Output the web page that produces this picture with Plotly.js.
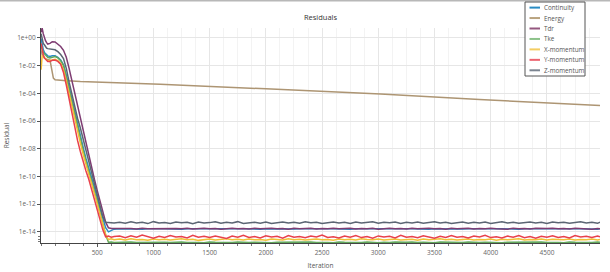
<!DOCTYPE html>
<html>
<head>
<meta charset="utf-8">
<script src="https://cdn.plot.ly/plotly-3.0.1.min.js"></script>
<style>
html,body{margin:0;padding:0;background:#fff;}
#chart{width:610px;height:272px;}
</style>
</head>
<body>
<div id="chart"></div>
<script>
// Iteration numbers shared by the noisy series
const iterations = [1,10,20,30,40,50,60,80,100,125,150,175,200,225,250,275,300,325,350,375,400,425,450,475,500,525,550,575,600,625,650,
700,750,800,850,900,950,1000,1050,1100,1150,1200,1250,1300,1350,1400,1450,1500,1550,1600,1650,1700,1750,1800,1850,1900,1950,
2000,2050,2100,2150,2200,2250,2300,2350,2400,2450,2500,2550,2600,2650,2700,2750,2800,2850,2900,2950,
3000,3050,3100,3150,3200,3250,3300,3350,3400,3450,3500,3550,3600,3650,3700,3750,3800,3850,3900,3950,
4000,4050,4100,4150,4200,4250,4300,4350,4400,4450,4500,4550,4600,4650,4700,4750,4800,4850,4900,4950,4972];

// Residual values stored as log10 exponents
const continuityLog10 = [-0.05,-0.5,-0.85,-1.05,-1.15,-1.25,-1.3,-1.35,-1.3,-1.3,-1.4,-1.6,-1.95,-2.7,-3.6,-4.5,-5.4,-6.3,-7.1,-7.9,-8.7,-9.4,-9.95,-10.7,-11.5,-12.3,-13.1,-13.7,-14.0,-13.9,-13.8,
-13.78,-13.79,-13.77,-13.78,-13.80,-13.77,-13.79,-13.78,-13.77,-13.79,
-13.78,-13.80,-13.77,-13.78,-13.79,-13.77,-13.78,-13.80,-13.78,-13.77,
-13.79,-13.78,-13.77,-13.79,-13.78,-13.80,-13.77,-13.78,-13.79,-13.77,
-13.78,-13.79,-13.77,-13.80,-13.78,-13.77,-13.79,-13.78,-13.77,-13.79,
-13.78,-13.80,-13.77,-13.78,-13.79,-13.77,-13.78,-13.80,-13.78,-13.77,
-13.79,-13.78,-13.77,-13.79,-13.78,-13.80,-13.77,-13.78,-13.79,-13.77,
-13.78,-13.79,-13.77,-13.80,-13.78,-13.77,-13.79,-13.78,-13.77,-13.79,
-13.78,-13.80,-13.77,-13.78,-13.79,-13.77,-13.78,-13.80,-13.78,-13.77,
-13.79,-13.78,-13.77,-13.79,-13.78,-13.80,-13.78];

const tdrLog10 = [0.4,0.71,0.3,0.0,-0.2,-0.35,-0.45,-0.4,-0.28,-0.3,-0.45,-0.62,-0.9,-1.4,-2.2,-3.1,-4.0,-4.95,-5.85,-6.75,-7.65,-8.5,-9.35,-10.2,-11.0,-11.8,-12.6,-13.3,-13.7,-13.76,-13.75,
-13.74,-13.78,-13.75,-13.79,-13.73,-13.77,-13.76,-13.80,-13.74,-13.77,
-13.75,-13.78,-13.73,-13.79,-13.76,-13.74,-13.78,-13.75,-13.80,-13.76,
-13.73,-13.77,-13.75,-13.79,-13.74,-13.78,-13.76,-13.73,-13.77,-13.75,
-13.80,-13.74,-13.78,-13.76,-13.73,-13.79,-13.75,-13.77,-13.74,-13.78,
-13.76,-13.73,-13.79,-13.75,-13.77,-13.74,-13.80,-13.76,-13.73,-13.78,
-13.75,-13.79,-13.74,-13.77,-13.76,-13.73,-13.78,-13.75,-13.80,-13.74,
-13.77,-13.76,-13.73,-13.79,-13.75,-13.78,-13.74,-13.77,-13.76,-13.80,
-13.73,-13.78,-13.75,-13.79,-13.74,-13.77,-13.76,-13.73,-13.78,-13.75,
-13.79,-13.74,-13.77,-13.76,-13.80,-13.75,-13.77];

const tkeLog10 = [-0.6,-0.9,-1.05,-1.15,-1.25,-1.35,-1.4,-1.45,-1.4,-1.35,-1.45,-1.65,-2.0,-2.8,-3.7,-4.6,-5.5,-6.45,-7.3,-8.1,-8.9,-9.6,-10.25,-11.0,-11.8,-12.6,-13.4,-14.2,-14.74,-14.72,-14.76,
-14.74,-14.77,-14.73,-14.76,-14.75,-14.78,-14.72,-14.76,-14.74,-14.77,
-14.75,-14.73,-14.77,-14.74,-14.76,-14.78,-14.73,-14.75,-14.77,-14.74,
-14.76,-14.72,-14.75,-14.77,-14.74,-14.76,-14.73,-14.78,-14.75,-14.74,
-14.77,-14.73,-14.76,-14.75,-14.72,-14.77,-14.74,-14.76,-14.78,-14.73,
-14.75,-14.77,-14.74,-14.76,-14.73,-14.75,-14.78,-14.74,-14.77,-14.72,
-14.76,-14.75,-14.73,-14.77,-14.74,-14.76,-14.78,-14.73,-14.75,-14.77,
-14.74,-14.76,-14.72,-14.75,-14.77,-14.74,-14.76,-14.73,-14.78,-14.75,
-14.74,-14.77,-14.73,-14.76,-14.75,-14.72,-14.77,-14.74,-14.76,-14.78,
-14.73,-14.75,-14.77,-14.74,-14.76,-14.73,-14.75];

const xMomentumLog10 = [-2.3,-1.3,-1.35,-1.45,-1.55,-1.6,-1.65,-1.65,-1.6,-1.55,-1.65,-1.85,-2.3,-3.1,-4.0,-5.0,-6.0,-6.75,-7.6,-8.4,-9.2,-9.85,-10.5,-11.25,-12.0,-12.75,-13.5,-14.2,-14.55,-14.5,-14.56,
-14.52,-14.58,-14.50,-14.57,-14.54,-14.60,-14.51,-14.56,-14.53,-14.59,
-14.55,-14.50,-14.57,-14.53,-14.61,-14.54,-14.52,-14.58,-14.55,-14.49,
-14.57,-14.53,-14.59,-14.51,-14.56,-14.54,-14.60,-14.52,-14.55,-14.58,
-14.50,-14.56,-14.53,-14.59,-14.54,-14.51,-14.57,-14.55,-14.60,-14.52,
-14.56,-14.53,-14.58,-14.50,-14.55,-14.57,-14.52,-14.59,-14.54,-14.51,
-14.58,-14.55,-14.53,-14.60,-14.52,-14.56,-14.54,-14.50,-14.57,-14.53,
-14.59,-14.55,-14.51,-14.58,-14.54,-14.56,-14.52,-14.60,-14.53,-14.57,
-14.55,-14.50,-14.58,-14.54,-14.56,-14.52,-14.59,-14.53,-14.55,-14.57,
-14.51,-14.58,-14.54,-14.56,-14.52,-14.59,-14.55];

const yMomentumLog10 = [-0.4,-0.9,-1.2,-1.45,-1.55,-1.65,-1.7,-1.7,-1.62,-1.6,-1.7,-1.9,-2.5,-3.4,-4.4,-5.4,-6.5,-7.4,-8.2,-8.95,-9.6,-10.2,-10.9,-11.7,-12.45,-13.15,-13.85,-14.35,-14.3,-14.38,-14.33,
-14.30,-14.42,-14.28,-14.38,-14.22,-14.36,-14.45,-14.31,-14.40,-14.26,
-14.37,-14.33,-14.44,-14.25,-14.39,-14.32,-14.41,-14.29,-14.36,-14.47,
-14.30,-14.38,-14.24,-14.40,-14.34,-14.43,-14.28,-14.37,-14.31,-14.45,
-14.26,-14.39,-14.33,-14.42,-14.29,-14.36,-14.23,-14.40,-14.35,-14.44,
-14.30,-14.38,-14.27,-14.41,-14.33,-14.46,-14.29,-14.37,-14.32,-14.43,
-14.25,-14.39,-14.34,-14.42,-14.28,-14.36,-14.45,-14.31,-14.40,-14.26,
-14.38,-14.33,-14.44,-14.29,-14.37,-14.24,-14.41,-14.35,-14.43,-14.30,
-14.39,-14.27,-14.42,-14.34,-14.46,-14.31,-14.38,-14.28,-14.40,-14.33,
-14.44,-14.26,-14.37,-14.32,-14.41,-14.29,-14.36];

const zMomentumLog10 = [0.3,-0.2,-0.4,-0.5,-0.65,-0.74,-0.78,-0.82,-0.84,-0.86,-1.0,-1.2,-1.5,-2.2,-3.2,-4.1,-4.9,-5.8,-6.5,-7.3,-8.1,-8.9,-9.6,-10.5,-11.4,-12.2,-12.9,-13.3,-13.33,-13.31,-13.35,
-13.30,-13.38,-13.27,-13.36,-13.31,-13.40,-13.26,-13.35,-13.32,-13.39,-13.28,-13.34,-13.30,-13.41,-13.29,-13.36,-13.33,-13.27,-13.38,-13.31,
-13.35,-13.26,-13.39,-13.32,-13.30,-13.37,-13.28,-13.40,-13.33,-13.29,-13.36,-13.31,-13.38,-13.27,-13.34,-13.30,-13.39,-13.32,-13.28,-13.35,
-13.31,-13.40,-13.29,-13.36,-13.33,-13.27,-13.37,-13.30,-13.34,-13.28,-13.39,-13.31,-13.35,-13.29,-13.38,-13.32,-13.26,-13.36,-13.30,-13.40,
-13.33,-13.28,-13.37,-13.31,-13.35,-13.29,-13.39,-13.32,-13.27,-13.36,-13.30,-13.38,-13.33,-13.29,-13.35,-13.31,-13.40,-13.28,-13.34,-13.30,
-13.37,-13.32,-13.27,-13.36,-13.31,-13.38,-13.30];

// Energy is smooth: its own sample points
const energyIter = [1,10,30,50,80,90,100,110,125,150,200,350,1060,2000,3020,3900,4440,4972];
const energyLog10 = [-0.9,-1.2,-1.45,-1.55,-1.6,-2.0,-2.6,-2.9,-3.02,-3.05,-3.07,-3.15,-3.34,-3.68,-4.06,-4.45,-4.66,-4.88];

const seriesNames = ['Continuity','Energy','Tdr','Tke','X-momentum','Y-momentum','Z-momentum'];
const seriesColors = ['#2a8cc4','#ad9573','#7e3c72','#62a85c','#f2c037','#e8414c','#5b6573'];
const legendColors = ['#2a8cc4','#b9a37f','#94577f','#8cc28a','#f4cd62','#ec6470','#7b8490'];

const yTickVals = [1,1e-2,1e-4,1e-6,1e-8,1e-10,1e-12,1e-14];
const yTickText = ['1e+00','1e-02','1e-04','1e-06','1e-08','1e-10','1e-12','1e-14'];
const xTickVals = [500,1000,1500,2000,2500,3000,3500,4000,4500];

const pow10 = a => a.map(v => Math.pow(10, v));
const seriesData = [
  [iterations, continuityLog10],
  [energyIter, energyLog10],
  [iterations, tdrLog10],
  [iterations, tkeLog10],
  [iterations, xMomentumLog10],
  [iterations, yMomentumLog10],
  [iterations, zMomentumLog10]
];

const traces = seriesData.map((d, i) => ({
  type: 'scatter', mode: 'lines', name: seriesNames[i],
  x: d[0], y: pow10(d[1]),
  line: {color: seriesColors[i], width: 1.5},
  hoverinfo: 'skip'
}));

// layout helpers (pixel -> paper)
const L = 41, R = 600, T = 28, B = 243;
const px = p => (p - L) / (R - L);
const py = p => (B - p) / (B - T);

const shapes = [
  {type:'line', xref:'paper', yref:'paper', x0:px(0), x1:px(610), y0:py(0.7), y1:py(0.7), line:{color:'#b8b8b8', width:1.5}},
  {type:'rect', xref:'paper', yref:'paper', x0:px(525), x1:px(585), y0:py(2), y1:py(76), fillcolor:'#ffffff', line:{color:'#555555', width:1}, layer:'above'}
];
const annotations = [];
seriesNames.forEach((n, i) => {
  const yy = 7.6 + 10.45 * i;
  shapes.push({type:'line', xref:'paper', yref:'paper', x0:px(529.5), x1:px(540), y0:py(yy), y1:py(yy), line:{color:legendColors[i], width:2}, layer:'above'});
  annotations.push({xref:'paper', yref:'paper', x:px(541.5), y:py(yy), text:n, showarrow:false, xanchor:'left', yanchor:'middle', font:{family:'Open Sans, sans-serif', size:6.3, color:'#555'}});
});

const layout = {
  width: 610, height: 272,
  margin: {l: L, r: 610 - R, t: T, b: 272 - B, pad: 0},
  paper_bgcolor: '#fff', plot_bgcolor: '#fff',
  showlegend: false,
  font: {family: 'Open Sans, sans-serif', color: '#555'},
  title: {text: 'Residuals', x: 0.5, xref: 'paper', y: 1 - 17/272, yref: 'container', yanchor: 'middle', xanchor: 'center', font: {size: 7.5, color: '#333'}},
  xaxis: {
    range: [0, 4972], tickmode: 'array', tickvals: xTickVals,
    ticks: 'outside', ticklen: 3, tickcolor: '#555', tickwidth: 1,
    showline: true, linecolor: '#444', linewidth: 1, zeroline: false,
    showgrid: true, gridcolor: '#e6e6e6', gridwidth: 1,
    minor: {dtick: 125, tick0: 0, ticks: 'outside', ticklen: 2, tickcolor: '#777', showgrid: true, gridcolor: '#f3f3f3'},
    tickfont: {size: 6.5, color: '#666'},
    title: {text: 'Iteration', font: {size: 6.5, color: '#555'}, standoff: 7}
  },
  yaxis: {
    type: 'log', range: [-14.8, 0.71], tickmode: 'array', tickvals: yTickVals, ticktext: yTickText,
    ticks: 'outside', ticklen: 3, tickcolor: '#555', tickwidth: 1,
    showline: true, linecolor: '#444', linewidth: 1, zeroline: false,
    showgrid: true, gridcolor: '#e6e6e6', gridwidth: 1,
    minor: {tickvals: [2e-15, 3e-15, 5e-15], ticks: 'outside', ticklen: 2, tickcolor: '#777', showgrid: false},
    tickfont: {size: 6.5, color: '#666'},
    title: {text: 'Residual', font: {size: 6.5, color: '#555'}, standoff: 6}
  },
  shapes: shapes,
  annotations: annotations
};

Plotly.newPlot('chart', traces, layout, {staticPlot: true, displayModeBar: false});
</script>
</body>
</html>
